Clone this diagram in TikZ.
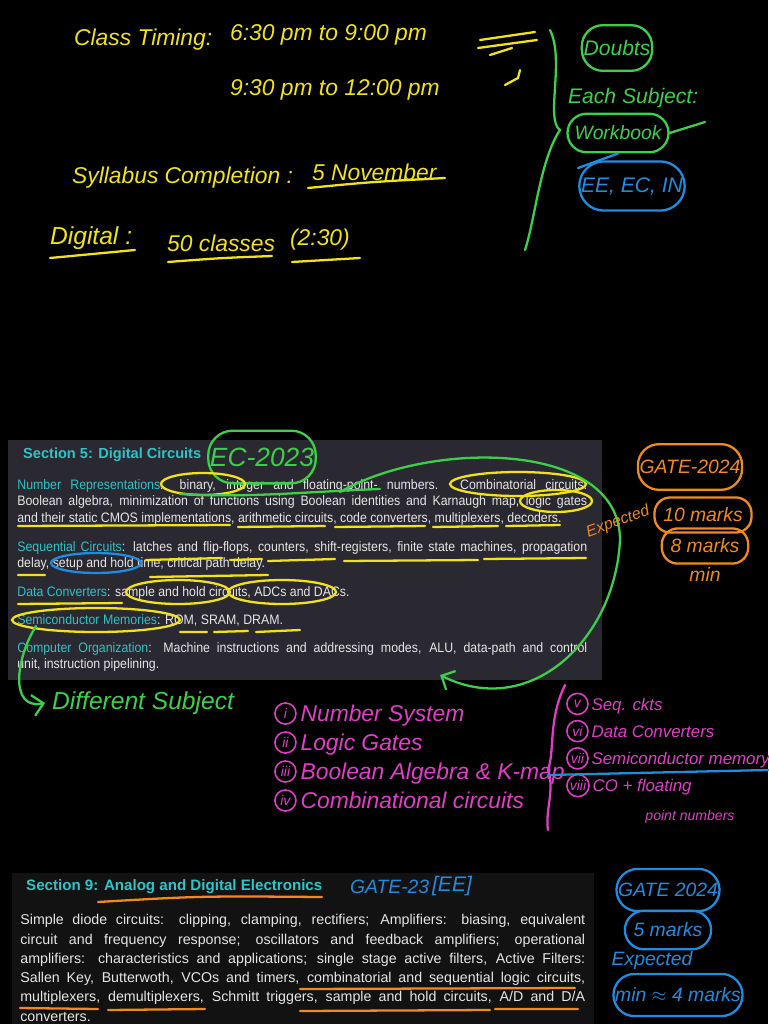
\documentclass[tikz,border=0pt]{standalone}
\usepackage{fontspec}
\setmainfont{Liberation Sans}
\newfontfamily\boxfont[FakeStretch=0.9]{Liberation Sans}
\usetikzlibrary{arrows.meta}
\definecolor{hy}{HTML}{F2E21C}
\definecolor{hg}{HTML}{3CD04A}
\definecolor{hb}{HTML}{1E8CE0}
\definecolor{hp}{HTML}{E23CC8}
\definecolor{ho}{HTML}{F08A1E}
\definecolor{cy}{HTML}{2EC4C8}
\definecolor{bx}{HTML}{2A2830}
\definecolor{bx2}{HTML}{121212}
\definecolor{tx}{HTML}{E6E6E6}
\newcommand\rnum[1]{\tikz[baseline=-0.7ex]\node[draw=hp,line width=0.9pt,circle,inner sep=0.6pt,minimum size=12pt,font=\footnotesize\itshape]{#1};}
\tikzset{
 hand/.style={font=\itshape\fontsize{#1}{#1}\selectfont,inner sep=1pt},
 pen/.style={line width=1.3pt,line cap=round},
 para/.style={anchor=north west,text width=11.4cm,align=justify,inner sep=0pt,text=tx,font=\boxfont\fontsize{7.8}{9.4}\selectfont},
 para2/.style={anchor=north west,text width=11.3cm,align=justify,inner sep=0pt,text=tx,font=\fontsize{8.1}{11}\selectfont},
}
\begin{document}
\begin{tikzpicture}[x=0.02cm,y=-0.02cm]
\fill[black] (0,0) rectangle (768,1024);
\useasboundingbox (0,0) rectangle (768,1024);
% top yellow notes
\node[hand=13,text=hy,anchor=west] (ct) at (72,40) {Class Timing:};
\node[hand=13,text=hy,anchor=west] (t1) at (228,35) {6:30 pm to 9:00 pm};
\node[hand=13,text=hy,anchor=west] (t2) at (228,90) {9:30 pm to 12:00 pm};
\draw[hy,pen] (480,40) -- (535,32) (478,48) -- (537,40) (505,85) -- (518,78) -- (520,70);
\draw[hy,pen] (490,55) -- (512,48);
\node[hand=13,text=hy,anchor=west] (sc) at (70,178) {Syllabus Completion :};
\node[hand=13,text=hy,anchor=west] (nv) at (310,172) {5 November};
\draw[hy,pen] (308,188) .. controls (370,182) .. (445,178);
\node[hand=14,text=hy,anchor=west] (dg) at (48,238) {Digital :};
\draw[hy,pen] (50,258) -- (135,250);
\node[hand=13,text=hy,anchor=west] (nc) at (165,243) {50 classes};
\draw[hy,pen] (168,262) .. controls (220,258) .. (272,256);
\node[hand=13,text=hy,anchor=west] (hr) at (288,240) {(2:30)};
\draw[hy,pen] (292,262) -- (360,258);
% green brace
\draw[hg,pen] (550,30) .. controls (565,60) and (545,120) .. (560,130) .. controls (540,160) and (535,220) .. (525,250);
\node[hand=12,text=hg,draw=hg,pen,rounded corners=12pt,minimum height=26pt] (db) at (617,48) {Doubts};
\node[hand=12,text=hg,anchor=west] (es) at (566,98) {Each Subject:};
\node[hand=11,text=hg,draw=hg,pen,rounded corners=11pt,inner xsep=4pt,minimum height=22pt] (wb) at (618,133) {Workbook};
\draw[hg,pen] (wb.east) -- (705,122);
\node[hand=12,text=hb,draw=hb,pen,rounded corners=14pt,minimum height=28pt] (ee) at (632,186) {EE, EC, IN};
\draw[hb,pen] (578,168) -- (wb.south);
% section 5 box
\fill[bx] (8,440) rectangle (602,680);
\node[anchor=west,text=cy,font=\bfseries\fontsize{8.3}{9}\selectfont] (s5) at (17,455) {Section 5: Digital Circuits};
\node[para] (p1) at (17,479) {\textcolor{cy}{Number Representations}: binary, integer and floating-point- numbers. Combinatorial circuits:\linebreak Boolean algebra, minimization of functions using Boolean identities and Karnaugh map, logic gates\linebreak and their static CMOS implementations, arithmetic circuits, code converters, multiplexers, decoders.};
\node[para] (p2) at (17,541) {\textcolor{cy}{Sequential Circuits}: latches and flip-flops, counters, shift-registers, finite state machines, propagation\linebreak delay, setup and hold time, critical path delay.};
\node[para] (p3) at (17,586) {\textcolor{cy}{Data Converters}: sample and hold circuits, ADCs and DACs.};
\node[para] (p4) at (17,614) {\textcolor{cy}{Semiconductor Memories}: ROM, SRAM, DRAM.};
\node[para] (p5) at (17,642) {\textcolor{cy}{Computer Organization}: Machine instructions and addressing modes, ALU, data-path and control\linebreak unit, instruction pipelining.};
% EC-2023
\node[hand=15,text=hg,draw=hg,pen,rounded corners=14pt,minimum height=30pt] (ec) at (262,457) {EC-2023};
% annotations on box
\draw[hy,pen] (203,484) ellipse (42 and 11);
\draw[hy,pen] (518,484) ellipse (68 and 12);
\draw[hy,pen] (556,501) ellipse (36 and 11);
\draw[hg,pen] (180,494) .. controls (250,498) and (300,492) .. (380,489);
\draw[hy,pen] (18,526) -- (230,525) (238,527) -- (325,526) (335,527) -- (425,526) (433,527) -- (498,526) (506,526) -- (560,525);
\draw[hy,pen] (146,560) -- (222,558) (230,560) -- (262,559) (268,561) -- (335,559) (344,561) -- (478,560) (484,559) -- (586,558);
\draw[hy,pen] (18,575) -- (45,575) (150,577) -- (268,575);
\draw[hb,pen] (96,563) ellipse (45 and 10);
\draw[hy,pen] (178,592) ellipse (52 and 12);
\draw[hy,pen] (282,592) ellipse (54 and 12);
\draw[hy,pen] (18,604) -- (122,603);
\draw[hy,pen] (96,620) ellipse (84 and 12);
\draw[hy,pen] (180,632) -- (207,632) (214,632) -- (248,631) (256,632) -- (300,630);
% big green loop
\draw[hg,pen,-{Straight Barb[length=6pt]}] (340,492) .. controls (430,440) and (620,440) .. (620,540) .. controls (615,640) and (530,720) .. (440,675);
% different subject
\draw[hg,pen,-{Straight Barb[length=6pt]}] (36,626) .. controls (15,660) and (10,710) .. (45,703);
\node[hand=14,text=hg,anchor=west] (dsub) at (50,703) {Different Subject};
% GATE 2024 orange
\node[hand=11,text=ho,draw=ho,pen,rounded corners=12pt,minimum height=26pt] (g24) at (690,467) {GATE-2024};
\node[hand=11,text=ho,draw=ho,pen,rounded corners=9pt,inner xsep=5pt,minimum height=20pt] (m10) at (703,515) {10 marks};
\node[hand=11,text=ho,draw=ho,pen,rounded corners=9pt,inner xsep=5pt,minimum height=20pt] (m8) at (705,546) {8 marks};
\node[hand=11,text=ho,anchor=center] (mn) at (705,574) {min};
\node[hand=9,text=ho,rotate=20] (exp) at (618,522) {Expected};
% pink list
\node[hand=13,text=hp,anchor=west,align=left,font=\itshape\fontsize{13}{16.5}\selectfont] (pl) at (272,757) {\rnum{i}\,Number System\\ \rnum{ii}\,Logic Gates\\ \rnum{iii}\,Boolean Algebra \& K-map\\ \rnum{iv}\,Combinational circuits};
\draw[hp,pen] (565,685) .. controls (548,720) and (555,750) .. (548,770) .. controls (555,790) and (545,810) .. (548,830);
\node[hand=10,text=hp,anchor=west,align=left,font=\itshape\fontsize{9.6}{15.5}\selectfont] (pr) at (564,745) {\rnum{v}\,Seq. ckts\\ \rnum{vi}\,Data Converters\\ \rnum{vii}\,Semiconductor memory\\ \rnum{viii}\,CO + floating};
\node[hand=8,text=hp] (pn) at (690,817) {point numbers};
\draw[hb,pen] (548,775) -- (768,770);
% section 9 box
\fill[bx2] (12,873) rectangle (594,1024);
\node[anchor=west,text=cy,font=\bfseries\fontsize{8.6}{10}\selectfont] (s9) at (20,887) {Section 9: Analog and Digital Electronics};
\draw[ho,pen] (98,902) .. controls (200,896) .. (322,897);
\node[hand=11,text=hb,anchor=west] (g23) at (348,887) {GATE-23};
\node[hand=12,text=hb,anchor=west] (eeb) at (430,886) {[EE]};
\node[para2] (q1) at (20,914) {Simple diode circuits: clipping, clamping, rectifiers; Amplifiers: biasing, equivalent\linebreak circuit and frequency response; oscillators and feedback amplifiers; operational\linebreak amplifiers: characteristics and applications; single stage active filters, Active Filters:\linebreak Sallen Key, Butterwoth, VCOs and timers, combinatorial and sequential logic circuits,\linebreak multiplexers, demultiplexers, Schmitt triggers, sample and hold circuits, A/D and D/A\linebreak converters.};
\draw[ho,pen] (300,989) -- (575,988) (20,1008) -- (98,1009) (108,1010) -- (205,1009) (300,1011) -- (490,1010) (495,1009) -- (578,1009);
\node[hand=11,text=hb,draw=hb,pen,rounded corners=12pt,minimum height=24pt] (b1) at (668,890) {GATE 2024};
\node[hand=11,text=hb,draw=hb,pen,rounded corners=11pt,inner xsep=5pt,minimum height=22pt] (b2) at (668,930) {5 marks};
\node[hand=11,text=hb] (b3) at (652,960) {Expected};
\node[hand=11,text=hb,draw=hb,pen,rounded corners=12pt,minimum height=24pt] (b4) at (678,995) {min $\approx$ 4 marks};
\end{tikzpicture}
\end{document}
